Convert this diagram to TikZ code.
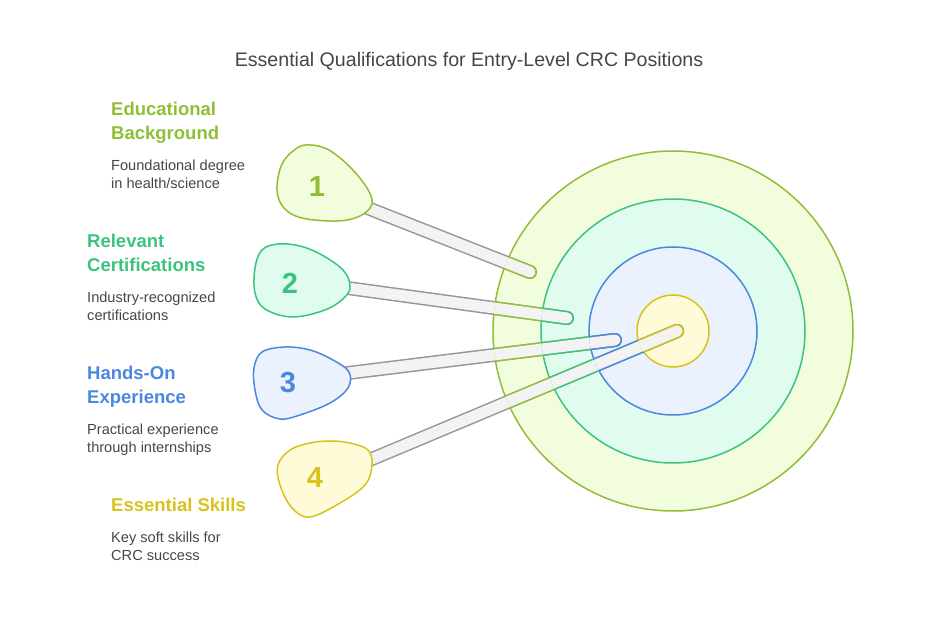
\documentclass[tikz,border=0pt]{standalone}
\usepackage{fontspec}
\setmainfont{Liberation Sans}
\usepackage{tikz}
\usetikzlibrary{positioning}
\definecolor{qlime}{RGB}{145,190,55}
\definecolor{qlimebg}{RGB}{242,253,222}
\definecolor{qteal}{RGB}{60,195,125}
\definecolor{qtealbg}{RGB}{224,252,239}
\definecolor{qblue}{RGB}{75,135,225}
\definecolor{qbluebg}{RGB}{235,242,254}
\definecolor{qyellow}{RGB}{215,195,30}
\definecolor{qyellowbg}{RGB}{255,250,215}
\definecolor{qgray}{RGB}{150,150,150}
\definecolor{qstick}{RGB}{243,243,243}
\definecolor{qtext}{RGB}{70,70,70}
\tikzstyle{ring} = [line width=1.5pt]
\tikzstyle{pick} = [line width=1.5pt]
\tikzstyle{num} = [font=\fontsize{29}{29}\selectfont\bfseries]
\tikzstyle{heading} = [anchor=north west, align=left, inner sep=0pt, font=\fontsize{18.5}{24}\selectfont\bfseries]
\tikzstyle{desc} = [anchor=north west, align=left, inner sep=0pt, text=qtext, font=\fontsize{14.6}{18}\selectfont]
\tikzstyle{stickout} = [line width=14pt, line cap=round]
\tikzstyle{stickin} = [line width=11pt, line cap=round, qstick]

% one stick, outline recoloured inside each ring
\newcommand{\qstickline}[2]{%
  \draw[stickout, qgray] (#1) -- (#2);
  \draw[stickin] (#1) -- (#2);
  \foreach \r/\c in {180/qlime,132/qteal,84/qblue,36/qyellow}{
    \begin{scope}
      \clip (target) circle (\r pt);
      \draw[stickout, \c] (#1) -- (#2);
      \draw[stickin] (#1) -- (#2);
    \end{scope}
  }%
}

\begin{document}
\begin{tikzpicture}[x=1pt, y=-1pt]
\useasboundingbox (0,0) rectangle (938,644);

% Title
\node[text=qtext, font=\fontsize{19.6}{22}\selectfont] (title) at (469,61) {Essential Qualifications for Entry-Level CRC Positions};

% Target rings
\coordinate (target) at (673,331);
\draw[ring, qlime, fill=qlimebg] (target) circle (180pt);
\draw[ring, qteal, fill=qtealbg] (target) circle (132pt);
\draw[ring, qblue, fill=qbluebg] (target) circle (84pt);
\draw[ring, qyellow, fill=qyellowbg] (target) circle (36pt);

% Stick ends
\coordinate (base1) at (360,205);
\coordinate (tip1) at (530,272);
\coordinate (base2) at (340,287);
\coordinate (tip2) at (567,318);
\coordinate (base3) at (340,374);
\coordinate (tip3) at (615,340);
\coordinate (base4) at (360,464);
\coordinate (tip4) at (677,331);

% Sticks
\qstickline{base1}{tip1}
\qstickline{base2}{tip2}
\qstickline{base3}{tip3}
\qstickline{base4}{tip4}

% Picks
\draw[pick, qlime, fill=qlimebg] plot[smooth cycle, tension=0.6] coordinates {(297,148) (311,145) (329,150) (350,167) (367,188) (372,204) (360,216) (337,221) (302,218) (284,208) (277,190) (282,164)};
\draw[pick, qteal, fill=qtealbg] plot[smooth cycle, tension=0.6] coordinates {(278,244) (300,246) (322,255) (343,270) (350,285) (345,297) (325,310) (292,317) (265,309) (255,293) (255,268) (262,250)};
\draw[pick, qblue, fill=qbluebg] plot[smooth cycle, tension=0.6] coordinates {(285,347) (310,350) (333,360) (349,372) (348,388) (330,403) (300,415) (280,419) (262,410) (255,390) (254,368) (262,352)};
\draw[pick, qyellow, fill=qyellowbg] plot[smooth cycle, tension=0.6] coordinates {(330,441) (350,443) (368,450) (372,465) (365,485) (340,503) (310,517) (292,508) (280,485) (278,465) (290,450) (310,443)};

\node[num, text=qlime] (n1) at (317,187) {1};
\node[num, text=qteal] (n2) at (290,283) {2};
\node[num, text=qblue] (n3) at (288,383) {3};
\node[num, text=qyellow] (n4) at (315,478) {4};

% Labels
\node[heading, text=qlime] (h1) at (111,102) {Educational\\Background};
\node[desc] (d1) at (111,160) {Foundational degree\\in health/science};
\node[heading, text=qteal] (h2) at (87,234) {Relevant\\Certifications};
\node[desc] (d2) at (87,292) {Industry-recognized\\certifications};
\node[heading, text=qblue] (h3) at (87,366) {Hands-On\\Experience};
\node[desc] (d3) at (87,424) {Practical experience\\through internships};
\node[heading, text=qyellow] (h4) at (111,498) {Essential Skills};
\node[desc] (d4) at (111,532) {Key soft skills for\\CRC success};
\end{tikzpicture}
\end{document}
